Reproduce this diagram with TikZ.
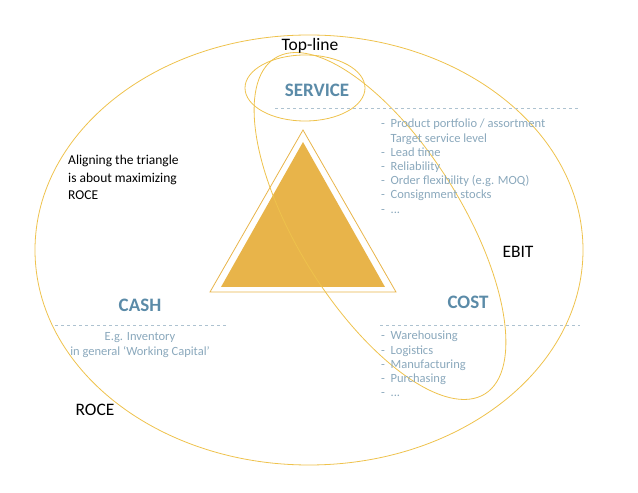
\documentclass[tikz,border=0pt]{standalone}
\usepackage{fontspec}
\setmainfont{Carlito}
\begin{document}
\begin{tikzpicture}[x=1pt,y=1pt]
\definecolor{gold}{HTML}{E8B44A}
\definecolor{ringc}{HTML}{EEC24C}
\definecolor{hdr}{HTML}{5B8BA8}
\definecolor{txt}{HTML}{8AA8BC}
\tikzset{ring/.style={draw=ringc,line width=0.8pt},
 head/.style={text=hdr,font=\fontsize{19}{19}\selectfont\bfseries},
 lst/.style={text=txt,font=\fontsize{12.5}{14.2}\selectfont,align=left,anchor=north west,inner sep=0},
 blk/.style={font=\fontsize{17.5}{17.5}\selectfont},
 sep/.style={draw=txt!70,dashed,line width=0.6pt}}
\useasboundingbox (0,0) rectangle (638,493);
% triangle
\draw[gold,line width=0.8pt] (303,363) -- (210,201) -- (396,201) -- cycle;
\fill[gold] (303,351) -- (221,206) -- (385,206) -- cycle;
% ellipses
\draw[ring] (309,243) ellipse [x radius=274,y radius=215];
\draw[ring] (305,405) ellipse [x radius=60,y radius=33];
\draw[ring,rotate around={-58:(380,267)}] (380,267) ellipse [x radius=198,y radius=82];
% headers
\node[head] (service) at (317,403) {SERVICE};
\node[head] (cash) at (140,188) {CASH};
\node[head] (cost) at (468,191) {COST};
\coordinate (s1) at (275,385); \coordinate (s2) at (580,385);
\draw[sep] (s1) -- (s2);
\coordinate (c1) at (55,168); \coordinate (c2) at (226,168);
\draw[sep] (c1) -- (c2);
\coordinate (k1) at (380,168); \coordinate (k2) at (580,168);
\draw[sep] (k1) -- (k2);
\node[lst] (slist) at (381,374) {-\ \ Product portfolio / assortment\\\phantom{-\ \ }Target service level\\-\ \ Lead time\\-\ \ Reliability\\-\ \ Order flexibility (e.g. MOQ)\\-\ \ Consignment stocks\\-\ \ ...};
\node[text=txt,font=\fontsize{12.5}{14.2}\selectfont,align=center] (clist) at (140,148) {E.g. Inventory\\in general ‘Working Capital’};
\node[lst] (klist) at (381,162) {-\ \ Warehousing\\-\ \ Logistics\\-\ \ Manufacturing\\-\ \ Purchasing\\-\ \ ...};
\node[font=\fontsize{13.5}{17.5}\selectfont,align=left,anchor=north west,inner sep=0] (align) at (68,338) {Aligning the triangle\\is about maximizing\\ROCE};
\node[blk] (top) at (310,447) {Top-line};
\node[blk] (ebit) at (518,241) {EBIT};
\node[blk] (roce) at (95,83) {ROCE};
\end{tikzpicture}
\end{document}
